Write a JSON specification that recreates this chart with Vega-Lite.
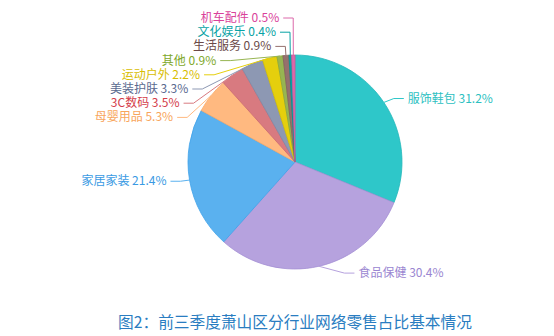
{
  "$schema": "https://vega.github.io/schema/vega-lite/v6.json",
  "width": 518,
  "height": 336,
  "padding": {"left": 36, "top": 0, "right": 0, "bottom": 0},
  "autosize": {"type": "none"},
  "background": "white",
  "config": {"view": {"stroke": null}, "font": "Noto Sans CJK SC"},
  "title": {
    "text": "图2：前三季度萧山区分行业网络零售占比基本情况",
    "orient": "bottom",
    "frame": "group",
    "anchor": "middle",
    "offset": -20,
    "fontSize": 15.7,
    "fontWeight": "normal",
    "font": "Noto Sans CJK SC",
    "color": "#2a7dc1"
  },
  "data": {
    "values": [
      {"category": "服饰鞋包", "value": 31.2},
      {"category": "食品保健", "value": 30.4},
      {"category": "家居家装", "value": 21.4},
      {"category": "母婴用品", "value": 5.3},
      {"category": "3C数码", "value": 3.5},
      {"category": "美装护肤", "value": 3.3},
      {"category": "运动户外", "value": 2.2},
      {"category": "其他", "value": 0.9},
      {"category": "生活服务", "value": 0.9},
      {"category": "文化娱乐", "value": 0.4},
      {"category": "机车配件", "value": 0.5}
    ]
  },
  "transform": [
    {"window": [{"op": "row_number", "as": "idx"}, {"op": "sum", "field": "value", "as": "cum"}], "frame": [null, 0]},
    {"joinaggregate": [{"op": "sum", "field": "value", "as": "total"}, {"op": "count", "as": "n"}]},
    {"calculate": "(datum.cum - datum.value / 2) / datum.total * 2 * PI", "as": "mid"},
    {"calculate": "sin(datum.mid)", "as": "sx"},
    {"calculate": "cos(datum.mid)", "as": "cyv"},
    {"calculate": "datum.sx < 0 ? -1 : 1", "as": "side"},
    {"calculate": "107 * datum.sx", "as": "ex"},
    {"calculate": "107 * datum.cyv", "as": "ey"},
    {"calculate": "144 - (datum.n - datum.idx) * 14.2", "as": "stackY"},
    {"calculate": "datum.side < 0 ? (datum.cyv > 0 ? datum.stackY : min(114 * datum.cyv, datum.stackY)) : 114 * datum.cyv", "as": "ly"},
    {"calculate": "abs(datum.ly) < 114 ? sqrt(126 * 126 - datum.ly * datum.ly) : abs(datum.sx) * 114 + 10", "as": "adx"},
    {"calculate": "datum.side * datum.adx", "as": "lx"},
    {"calculate": "datum.lx - datum.side * 10", "as": "bx"},
    {"calculate": "datum.lx + datum.side * 4", "as": "tx"},
    {"calculate": "datum.category + ' ' + format(datum.value, '.1f') + '%'", "as": "label"}
  ],
  "layer": [
    {
      "mark": {"type": "arc", "outerRadius": 107, "strokeWidth": 0.8},
      "encoding": {
        "x": {"datum": 0, "type": "quantitative", "scale": {"domain": [-259, 259], "nice": false, "zero": false}, "axis": null},
        "y": {"datum": 0, "type": "quantitative", "scale": {"domain": [-174, 162], "nice": false, "zero": false}, "axis": null},
        "theta": {"field": "value", "type": "quantitative", "stack": true},
        "order": {"field": "idx", "type": "quantitative"},
        "color": {
          "field": "category", "type": "nominal", "legend": null,
          "scale": {
            "domain": ["服饰鞋包", "食品保健", "家居家装", "母婴用品", "3C数码", "美装护肤", "运动户外", "其他", "生活服务", "文化娱乐", "机车配件"],
            "range": ["#2ec7c9", "#b6a2de", "#5ab1ef", "#ffb980", "#d87a80", "#8d98b3", "#e5cf0d", "#97b552", "#95706d", "#07a2a4", "#dc69aa"]
          }
        },
        "stroke": {"field": "category", "type": "nominal", "legend": null,
          "scale": {
            "domain": ["服饰鞋包", "食品保健", "家居家装", "母婴用品", "3C数码", "美装护肤", "运动户外", "其他", "生活服务", "文化娱乐", "机车配件"],
            "range": ["#22b8ba", "#a48fd4", "#3fa2ea", "#f8a96a", "#cc6a71", "#7d89a6", "#d6bf00", "#88a640", "#84605d", "#048f91", "#cf5a9c"]
          }
        }
      }
    },
    {
      "mark": {"type": "rule", "strokeWidth": 1},
      "encoding": {
        "x": {"field": "ex", "type": "quantitative", "scale": {"domain": [-259, 259], "nice": false, "zero": false}, "axis": null},
        "y": {"field": "ey", "type": "quantitative", "scale": {"domain": [-174, 162], "nice": false, "zero": false}, "axis": null},
        "x2": {"field": "bx"},
        "y2": {"field": "ly"},
        "color": {"field": "category", "type": "nominal", "legend": null}
      }
    },
    {
      "mark": {"type": "rule", "strokeWidth": 1},
      "encoding": {
        "x": {"field": "bx", "type": "quantitative", "scale": {"domain": [-259, 259], "nice": false, "zero": false}, "axis": null},
        "y": {"field": "ly", "type": "quantitative", "scale": {"domain": [-174, 162], "nice": false, "zero": false}, "axis": null},
        "x2": {"field": "lx"},
        "y2": {"field": "ly"},
        "color": {"field": "category", "type": "nominal", "legend": null}
      }
    },
    {
      "transform": [{"filter": "datum.side < 0"}],
      "mark": {"type": "text", "align": "right", "baseline": "middle", "fontSize": 12, "font": "Noto Sans CJK SC"},
      "encoding": {
        "x": {"field": "tx", "type": "quantitative", "scale": {"domain": [-259, 259], "nice": false, "zero": false}, "axis": null},
        "y": {"field": "ly", "type": "quantitative", "scale": {"domain": [-174, 162], "nice": false, "zero": false}, "axis": null},
        "text": {"field": "label"},
        "fill": {"field": "category", "type": "nominal", "legend": null,
          "scale": {
            "domain": ["服饰鞋包", "食品保健", "家居家装", "母婴用品", "3C数码", "美装护肤", "运动户外", "其他", "生活服务", "文化娱乐", "机车配件"],
            "range": ["#2cbfc1", "#9a86d1", "#3a9ae3", "#f8a55c", "#d43c4a", "#5a6a8f", "#d8bd00", "#7ea82a", "#6b4a48", "#07a2a4", "#d9429a"]
          }
        }
      }
    },
    {
      "transform": [{"filter": "datum.side > 0"}],
      "mark": {"type": "text", "align": "left", "baseline": "middle", "fontSize": 12, "font": "Noto Sans CJK SC"},
      "encoding": {
        "x": {"field": "tx", "type": "quantitative", "scale": {"domain": [-259, 259], "nice": false, "zero": false}, "axis": null},
        "y": {"field": "ly", "type": "quantitative", "scale": {"domain": [-174, 162], "nice": false, "zero": false}, "axis": null},
        "text": {"field": "label"},
        "fill": {"field": "category", "type": "nominal", "legend": null}
      }
    }
  ]
}
